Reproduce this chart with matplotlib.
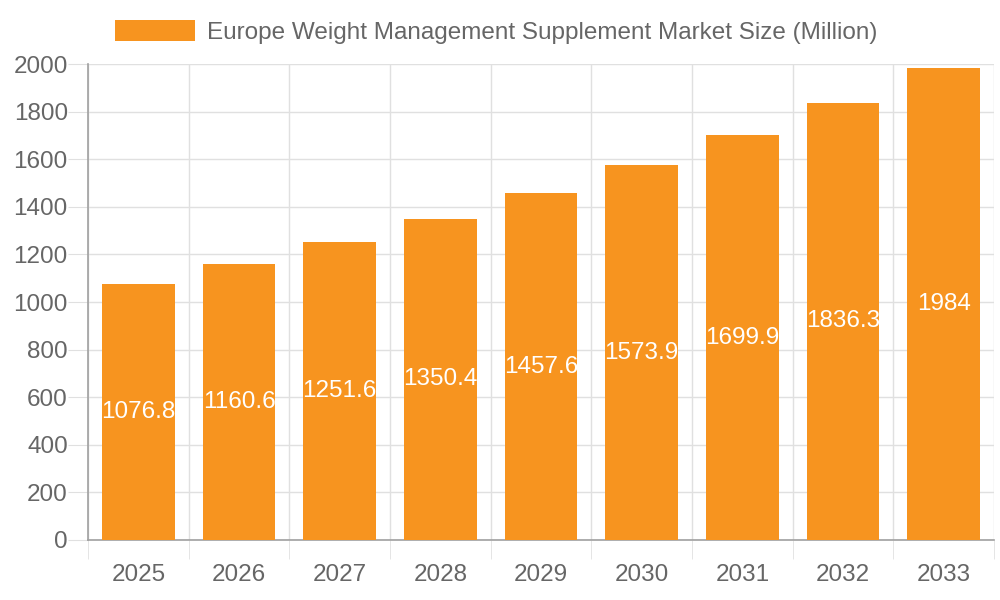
import matplotlib
matplotlib.use("Agg")
import matplotlib.pyplot as plt
import numpy as np

years = ["2025", "2026", "2027", "2028", "2029", "2030", "2031", "2032", "2033"]
market_size = [1076.8, 1160.6, 1251.6, 1350.4, 1457.6, 1573.9, 1699.9, 1836.3, 1984]
label_texts = ["1076.8", "1160.6", "1251.6", "1350.4", "1457.6", "1573.9", "1699.9", "1836.3", "1984"]
y_ticks = [0, 200, 400, 600, 800, 1000, 1200, 1400, 1600, 1800, 2000]

bar_color = "#F7941F"
text_gray = "#666666"
grid_gray = "#E0E0E0"
axis_gray = "#A0A0A0"

plt.rcParams['font.family'] = ['Liberation Sans', 'DejaVu Sans']

fig = plt.figure(figsize=(10, 6), dpi=100)
ax = fig.add_axes([0.088, 0.1, 0.906, 0.7933])

x = np.arange(len(years))
bars = ax.bar(x, market_size, width=0.72, color=bar_color, zorder=3,
              label="Europe Weight Management Supplement Market Size (Million)")

for xi, v, t in zip(x, market_size, label_texts):
    ax.text(xi, v / 2, t, ha="center", va="center", color="white", fontsize=17.5, zorder=4)

ax.set_xlim(-0.5, len(years) - 0.5)
ax.set_ylim(0, 2000)
ax.set_yticks(y_ticks)
ax.set_xticks(x)
ax.set_xticklabels(years)
ax.set_xticks(np.arange(-0.5, len(years)), minor=True)

ax.grid(axis="y", color=grid_gray, linewidth=1, zorder=0)
ax.grid(axis="x", which="minor", color=grid_gray, linewidth=1, zorder=0)

for side in ["top", "right"]:
    ax.spines[side].set_visible(False)
ax.spines["left"].set_color(axis_gray)
ax.spines["bottom"].set_color(axis_gray)
ax.spines["left"].set_linewidth(1.2)
ax.spines["bottom"].set_linewidth(1.2)

ax.tick_params(axis="y", which="major", length=14.5, color=grid_gray, labelcolor=text_gray,
               labelsize=17.5, pad=0)
ax.tick_params(axis="x", which="major", length=0, labelcolor=text_gray, labelsize=17.5, pad=17)
ax.tick_params(axis="x", which="minor", length=14, color=grid_gray)

leg = fig.legend(loc="upper center", bbox_to_anchor=(0.496, 1.003), frameon=False,
                 fontsize=17.5, handlelength=3.3, handleheight=0.95, handletextpad=0.5)
for t in leg.get_texts():
    t.set_color(text_gray)

fig.savefig("out.png", dpi=100)
